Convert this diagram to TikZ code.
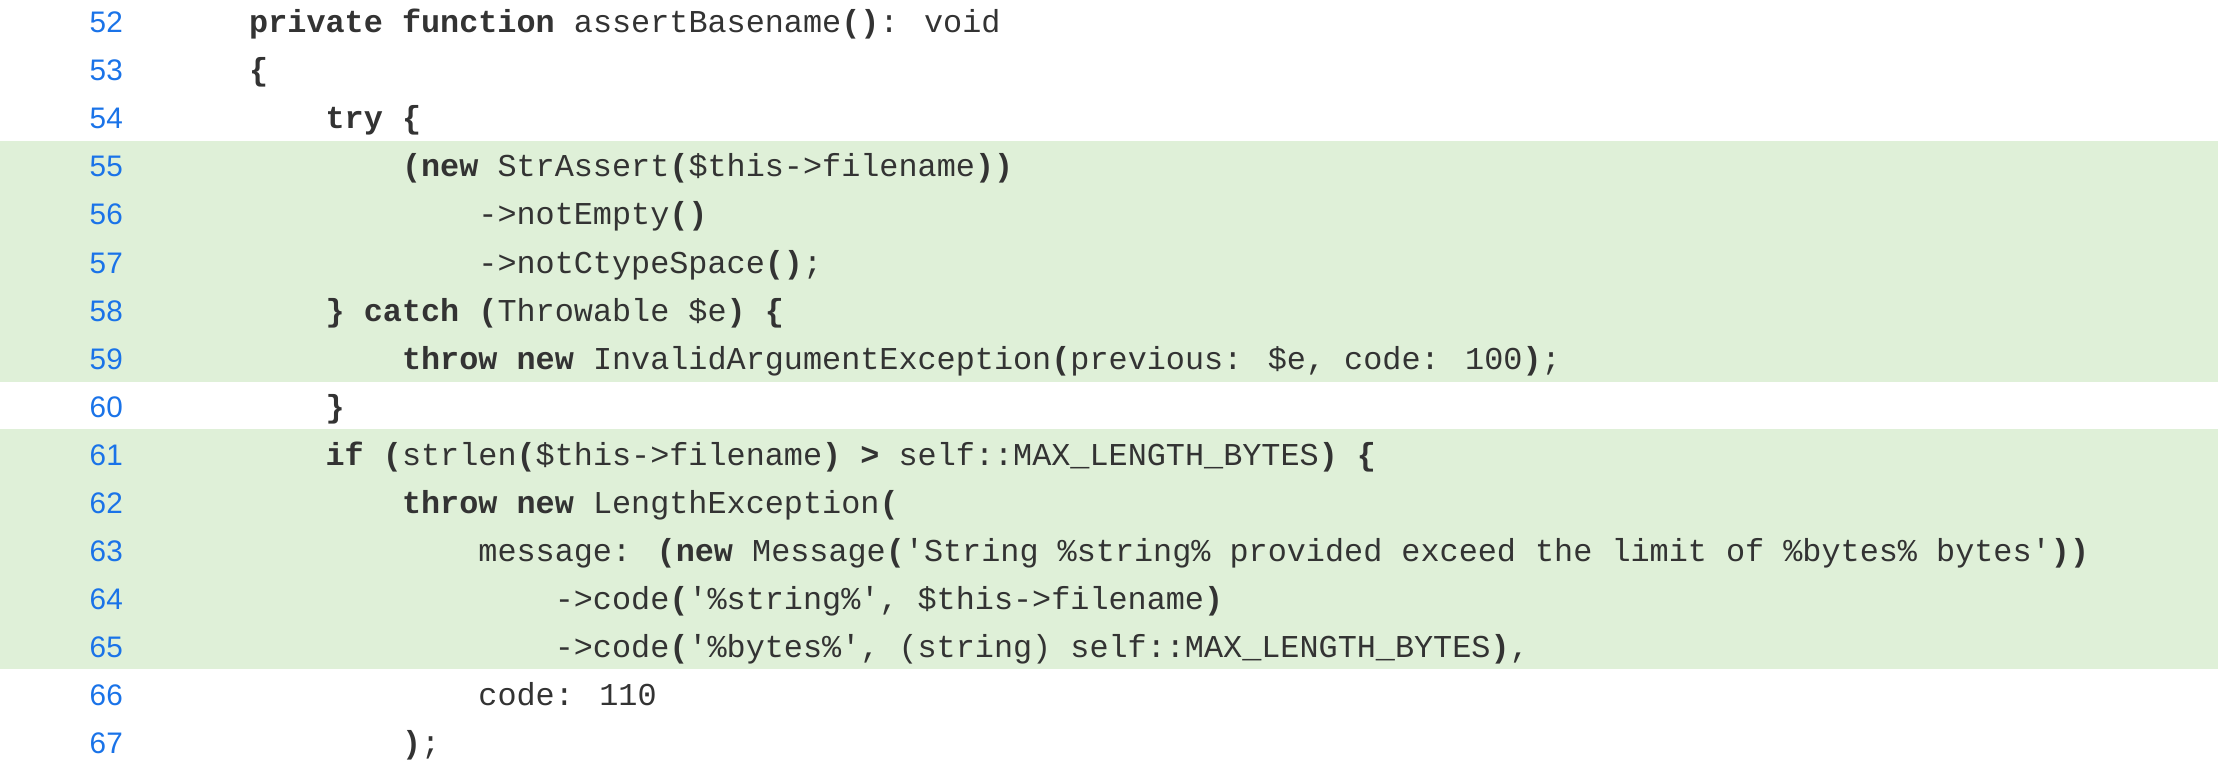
\documentclass[tikz,border=0pt]{standalone}
\usepackage{fontspec}
\newfontfamily\codef{Liberation Mono}
\newfontfamily\numf{Liberation Sans}
\definecolor{bandg}{HTML}{DFF0D8}
\definecolor{numc}{HTML}{1A73E8}
\definecolor{codec}{HTML}{333333}
\newcommand{\kw}[1]{\textbf{#1}}
\begin{document}
\begin{tikzpicture}[x=1pt,y=-1pt,
  codeline/.style={anchor=base west,inner sep=0pt,font=\codef\fontsize{22.5}{24}\selectfont,text=codec},
  numline/.style={anchor=base east,inner sep=0pt,font=\numf\fontsize{21}{24}\selectfont,text=numc}]
\useasboundingbox (0,0) rectangle (1568,540);
\fill[bandg] (0,100) rectangle (1568,270);
\fill[bandg] (0,303) rectangle (1568,473);
\foreach \n [count=\i from 0] in {52,...,67}
  \node[numline] (n\n) at (87,{15+34*\i+8}) {\n};
\node[codeline] (l52) at (176,23) {\kw{private function} assertBasename\kw{()}: void};
\node[codeline] (l53) at (176,57) {\kw{\{}};
\node[codeline] (l54) at (230,91) {\kw{try \{}};
\node[codeline] (l55) at (284,125) {\kw{(new} StrAssert\kw{(}\$this->filename\kw{))}};
\node[codeline] (l56) at (338,159) {->notEmpty\kw{()}};
\node[codeline] (l57) at (338,193) {->notCtypeSpace\kw{()};};
\node[codeline] (l58) at (230,227) {\kw{\} catch (}Throwable \$e\kw{) \{}};
\node[codeline] (l59) at (284,261) {\kw{throw new} InvalidArgumentException\kw{(}previous: \$e, code: 100\kw{)};};
\node[codeline] (l60) at (230,295) {\kw{\}}};
\node[codeline] (l61) at (230,329) {\kw{if (}strlen\kw{(}\$this->filename\kw{) >} self::MAX\_LENGTH\_BYTES\kw{) \{}};
\node[codeline] (l62) at (284,363) {\kw{throw new} LengthException\kw{(}};
\node[codeline] (l63) at (338,397) {message: \kw{(new} Message\kw{(}'String \%string\% provided exceed the limit of \%bytes\% bytes'\kw{))}};
\node[codeline] (l64) at (392,431) {->code\kw{(}'\%string\%', \$this->filename\kw{)}};
\node[codeline] (l65) at (392,465) {->code\kw{(}'\%bytes\%', (string) self::MAX\_LENGTH\_BYTES\kw{)},};
\node[codeline] (l66) at (338,499) {code: 110};
\node[codeline] (l67) at (284,533) {\kw{)};};
\end{tikzpicture}
\end{document}
